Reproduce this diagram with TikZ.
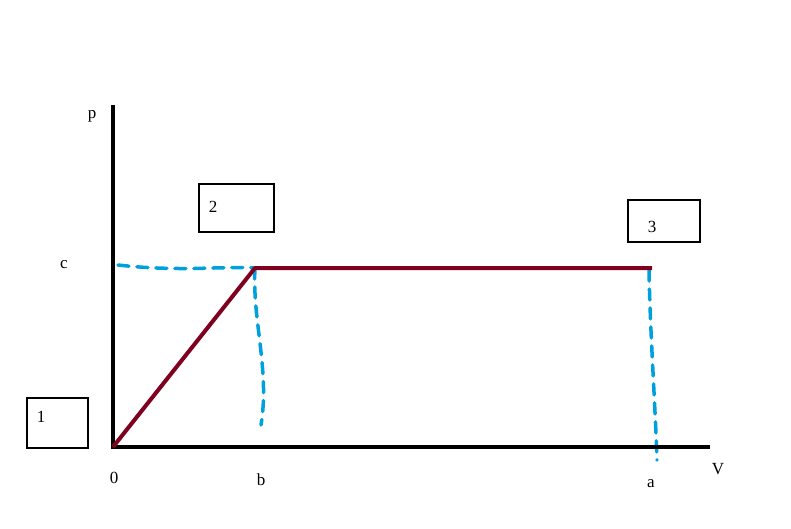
\documentclass[tikz,border=0pt]{standalone}
\usepackage{fontspec}
\setmainfont{Liberation Serif}
\begin{document}
\begin{tikzpicture}[x=1pt,y=-1pt,
  lbl/.style={font=\fontsize{17}{17}\selectfont,inner sep=0pt},
  numbox/.style={draw,line width=2pt,minimum width=0pt,inner sep=0pt},
  axis/.style={line width=4pt,black},
  curve/.style={line width=4pt,color={rgb,255:red,128;green,0;blue,32}},
  guide/.style={line width=3.5pt,color={rgb,255:red,0;green,160;blue,220},dash pattern=on 11pt off 8pt,line cap=round}]
\useasboundingbox (0,0) rectangle (791,528);
\fill[white] (0,0) rectangle (791,528);
\coordinate (O) at (113,447);
\coordinate (ytop) at (113,105);
\coordinate (xend) at (710,447);
\coordinate (B) at (255,268);
\coordinate (C) at (652,268);
\coordinate (cl) at (118,265);
\coordinate (bb) at (261,425);
\coordinate (ab) at (657,460);
\draw[guide] (cl) .. controls (180,272) and (220,266) .. (B);
\draw[guide] (B) .. controls (252,320) and (270,370) .. (bb);
\draw[guide] (649,270) .. controls (650,330) and (655,400) .. (ab);
\draw[axis] (ytop) -- (O) -- (xend);
\draw[curve,line join=round] (O) -- (B) -- (C);
\node[numbox] (n1) at (57.5,423) {\makebox[61pt]{\rule{0pt}{50pt}}};
\node[numbox] (n2) at (236.5,208) {\makebox[75pt]{\rule{0pt}{48pt}}};
\node[numbox] (n3) at (664,221) {\makebox[72pt]{\rule{0pt}{42pt}}};
\node[lbl] (t1) at (41,417) {1};
\node[lbl] (t2) at (213,207) {2};
\node[lbl] (t3) at (652,227) {3};
\node[lbl] (p) at (92,116) {p};
\node[lbl] (c) at (64,265) {c};
\node[lbl] (z) at (114,478) {0};
\node[lbl] (b) at (261,480) {b};
\node[lbl] (a) at (651,484) {a};
\node[lbl] (V) at (718,469) {V};
\end{tikzpicture}
\end{document}
